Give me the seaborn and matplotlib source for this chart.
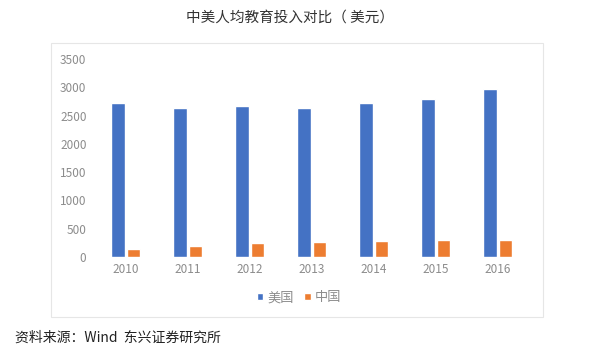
import pandas as pd
import seaborn as sns
import matplotlib.pyplot as plt
from matplotlib.patches import Rectangle

# per-capita education spending, USD
years = ['2010', '2011', '2012', '2013', '2014', '2015', '2016']
usa = [2715, 2640, 2675, 2640, 2722, 2798, 2975]
china = [134, 187, 247, 265, 276, 306, 308]
series = ['美国', '中国']

df = pd.DataFrame({
    'year': years * 2,
    'value': usa + china,
    'country': [series[0]] * len(years) + [series[1]] * len(years),
})

sns.set_style('white')
plt.rcParams['font.family'] = ['Noto Sans CJK SC', 'DejaVu Sans']

fig = plt.figure(figsize=(5.89, 3.56), dpi=100)
fig.patch.set_facecolor('white')

# light frame around the chart area
fig.patches.append(Rectangle((51 / 589, 1 - 317 / 356), 492 / 589, 274 / 356,
                             transform=fig.transFigure, fill=False,
                             edgecolor='#e6e6e6', linewidth=0.8))

ax = fig.add_axes([0.161, 0.278, 0.737, 0.556])
sns.barplot(data=df, x='year', y='value', hue='country', hue_order=series,
            palette=['#4472C4', '#ED7D31'], width=0.5, gap=0.12,
            saturation=1, ax=ax, legend=True)

ax.set_ylim(0, 3500)
ax.set_yticks(range(0, 3501, 500))
ax.set_xlabel('')
ax.set_ylabel('')
sns.despine(ax=ax, left=True, bottom=True)
ax.tick_params(axis='both', length=0, colors='#8c8c8c', labelsize=8.5)
ax.tick_params(axis='y', pad=6)
ax.tick_params(axis='x', pad=4)

ax.legend(loc='center', bbox_to_anchor=(0.47, -0.205), ncol=2, frameon=False,
          fontsize=9.5, handlelength=0.5, handleheight=0.5, handletextpad=0.3,
          columnspacing=0.8, labelcolor='#8c8c8c')

fig.text(290 / 589, 1 - 18 / 356, '中美人均教育投入对比（ 美元）', ha='center',
         va='center', fontsize=10.5, color='#333333')
fig.text(15 / 589, 1 - 338 / 356, '资料来源：Wind  东兴证券研究所', ha='left',
         va='center', fontsize=10, style='italic', color='#222222')

fig.savefig('out.png', dpi=100)
